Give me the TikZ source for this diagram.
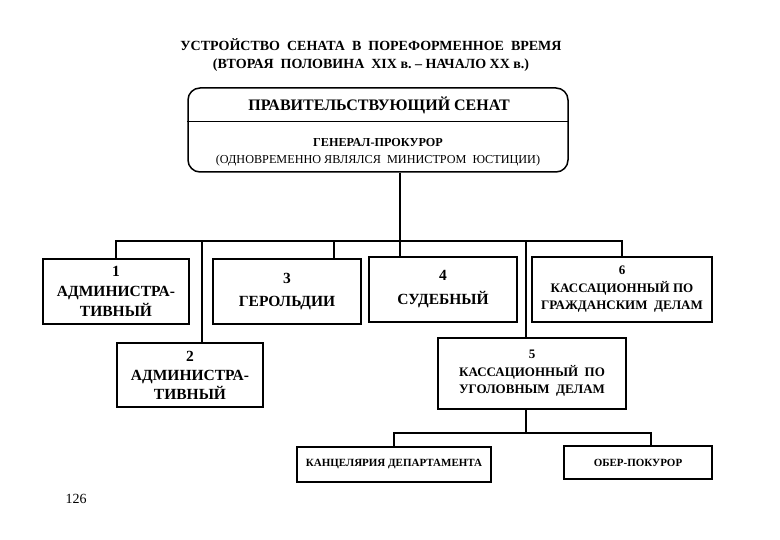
\documentclass[tikz,border=0pt]{standalone}
\usepackage{fontspec}
\setmainfont{Liberation Serif}
\begin{document}
\begin{tikzpicture}[x=1pt,y=-1pt,
    dept/.style={draw,
      line width=1.3pt,
      minimum height=65pt,
      inner sep=0pt,
      align=center,
      font=\bfseries\fontsize{15.5}{20}\selectfont},
    cass/.style={dept,
      font=\bfseries\fontsize{13}{17.5}\selectfont},
    office/.style={draw,
      line width=1.3pt,
      inner sep=0pt,
      align=center,
      font=\bfseries\fontsize{11}{12}\selectfont},
    link/.style={line width=2.5pt}]
    \useasboundingbox (0,0) rectangle (780,540);

    % Title
    \node[align=center,
      font=\bfseries\fontsize{14}{18}\selectfont] (title) at (371,55)
      {УСТРОЙСТВО~~СЕНАТА~~В~~ПОРЕФОРМЕННОЕ~~ВРЕМЯ\\(ВТОРАЯ~~ПОЛОВИНА~~XIX~в.~–~НАЧАЛО~XX~в.)};

    % Senate
    \node[draw,
      rounded corners=12pt,
      line width=1.5pt,
      minimum width=380pt,
      minimum height=84pt] (senate) at (378,130) {};
    \coordinate (split) at (0,122);
    \draw[line width=1pt] (senate.west |- split) -- (senate.east |- split);
    \node[font=\bfseries\fontsize{16}{18}\selectfont] (senatename) at (379,105) {ПРАВИТЕЛЬСТВУЮЩИЙ СЕНАТ};
    \node[align=center,
      font=\fontsize{12.2}{17}\selectfont] (procurator) at (378,152)
      {\textbf{ГЕНЕРАЛ-ПРОКУРОР}\\(ОДНОВРЕМЕННО ЯВЛЯЛСЯ~~МИНИСТРОМ~~ЮСТИЦИИ)};

    % Departments
    \node[dept,
      minimum width=146pt] (adm1) at (116,291.5) {1\\АДМИНИСТРА-\\ТИВНЫЙ};
    \node[dept,
      minimum width=148pt,
      font=\bfseries\fontsize{15.5}{23}\selectfont] (herald) at (287,291.5) {3\\ГЕРОЛЬДИИ};
    \node[dept,
      minimum width=148pt,
      font=\bfseries\fontsize{15.5}{24}\selectfont] (court) at (443,289.5) {4\\СУДЕБНЫЙ};
    \node[cass,
      minimum width=180pt] (civil) at (622,289.5) {6\\КАССАЦИОННЫЙ ПО\\ГРАЖДАНСКИМ~~ДЕЛАМ};
    \node[dept,
      minimum width=146pt,
      minimum height=64pt,
      font=\bfseries\fontsize{15.5}{19}\selectfont] (adm2) at (190,375) {2\\АДМИНИСТРА-\\ТИВНЫЙ};
    \node[cass,
      minimum width=188pt,
      minimum height=71pt] (crim) at (532,373.5) {5\\КАССАЦИОННЫЙ~~ПО\\УГОЛОВНЫМ~~ДЕЛАМ};

    % Offices
    \node[office,
      minimum width=194pt,
      minimum height=35pt] (chancery) at (394,464.5) {КАНЦЕЛЯРИЯ ДЕПАРТАМЕНТА};
    \node[office,
      minimum width=148pt,
      minimum height=33pt] (oberproc) at (638,462.5) {ОБЕР-ПОКУРОР};

    % Page number
    \node[font=\fontsize{14}{16}\selectfont] (page) at (76,499) {126};

    % Draw links
    \coordinate (bus) at (0,241);
    \coordinate (lowbus) at (0,433);
    \coordinate (axis) at (400,0);
    \coordinate (heraldtap) at (334,0);
    \coordinate (adm2tap) at (202,0);
    \coordinate (crimtap) at (526,0);
    \coordinate (obertap) at (651,0);
    \draw[link] (senate.south -| axis) -- (court.north -| axis);
    \draw[link] (adm1.north) -- (adm1.north |- bus) -- (civil.north |- bus) -- (civil.north);
    \draw[link] (herald.north -| heraldtap) -- (heraldtap |- bus);
    \draw[link] (adm2tap |- bus) -- (adm2.north -| adm2tap);
    \draw[link] (crimtap |- bus) -- (crim.north -| crimtap);
    \draw[link] (crim.south -| crimtap) -- (crimtap |- lowbus);
    \draw[link] (chancery.north) -- (chancery.north |- lowbus) -- (obertap |- lowbus) -- (oberproc.north -| obertap);

\end{tikzpicture}
\end{document}
